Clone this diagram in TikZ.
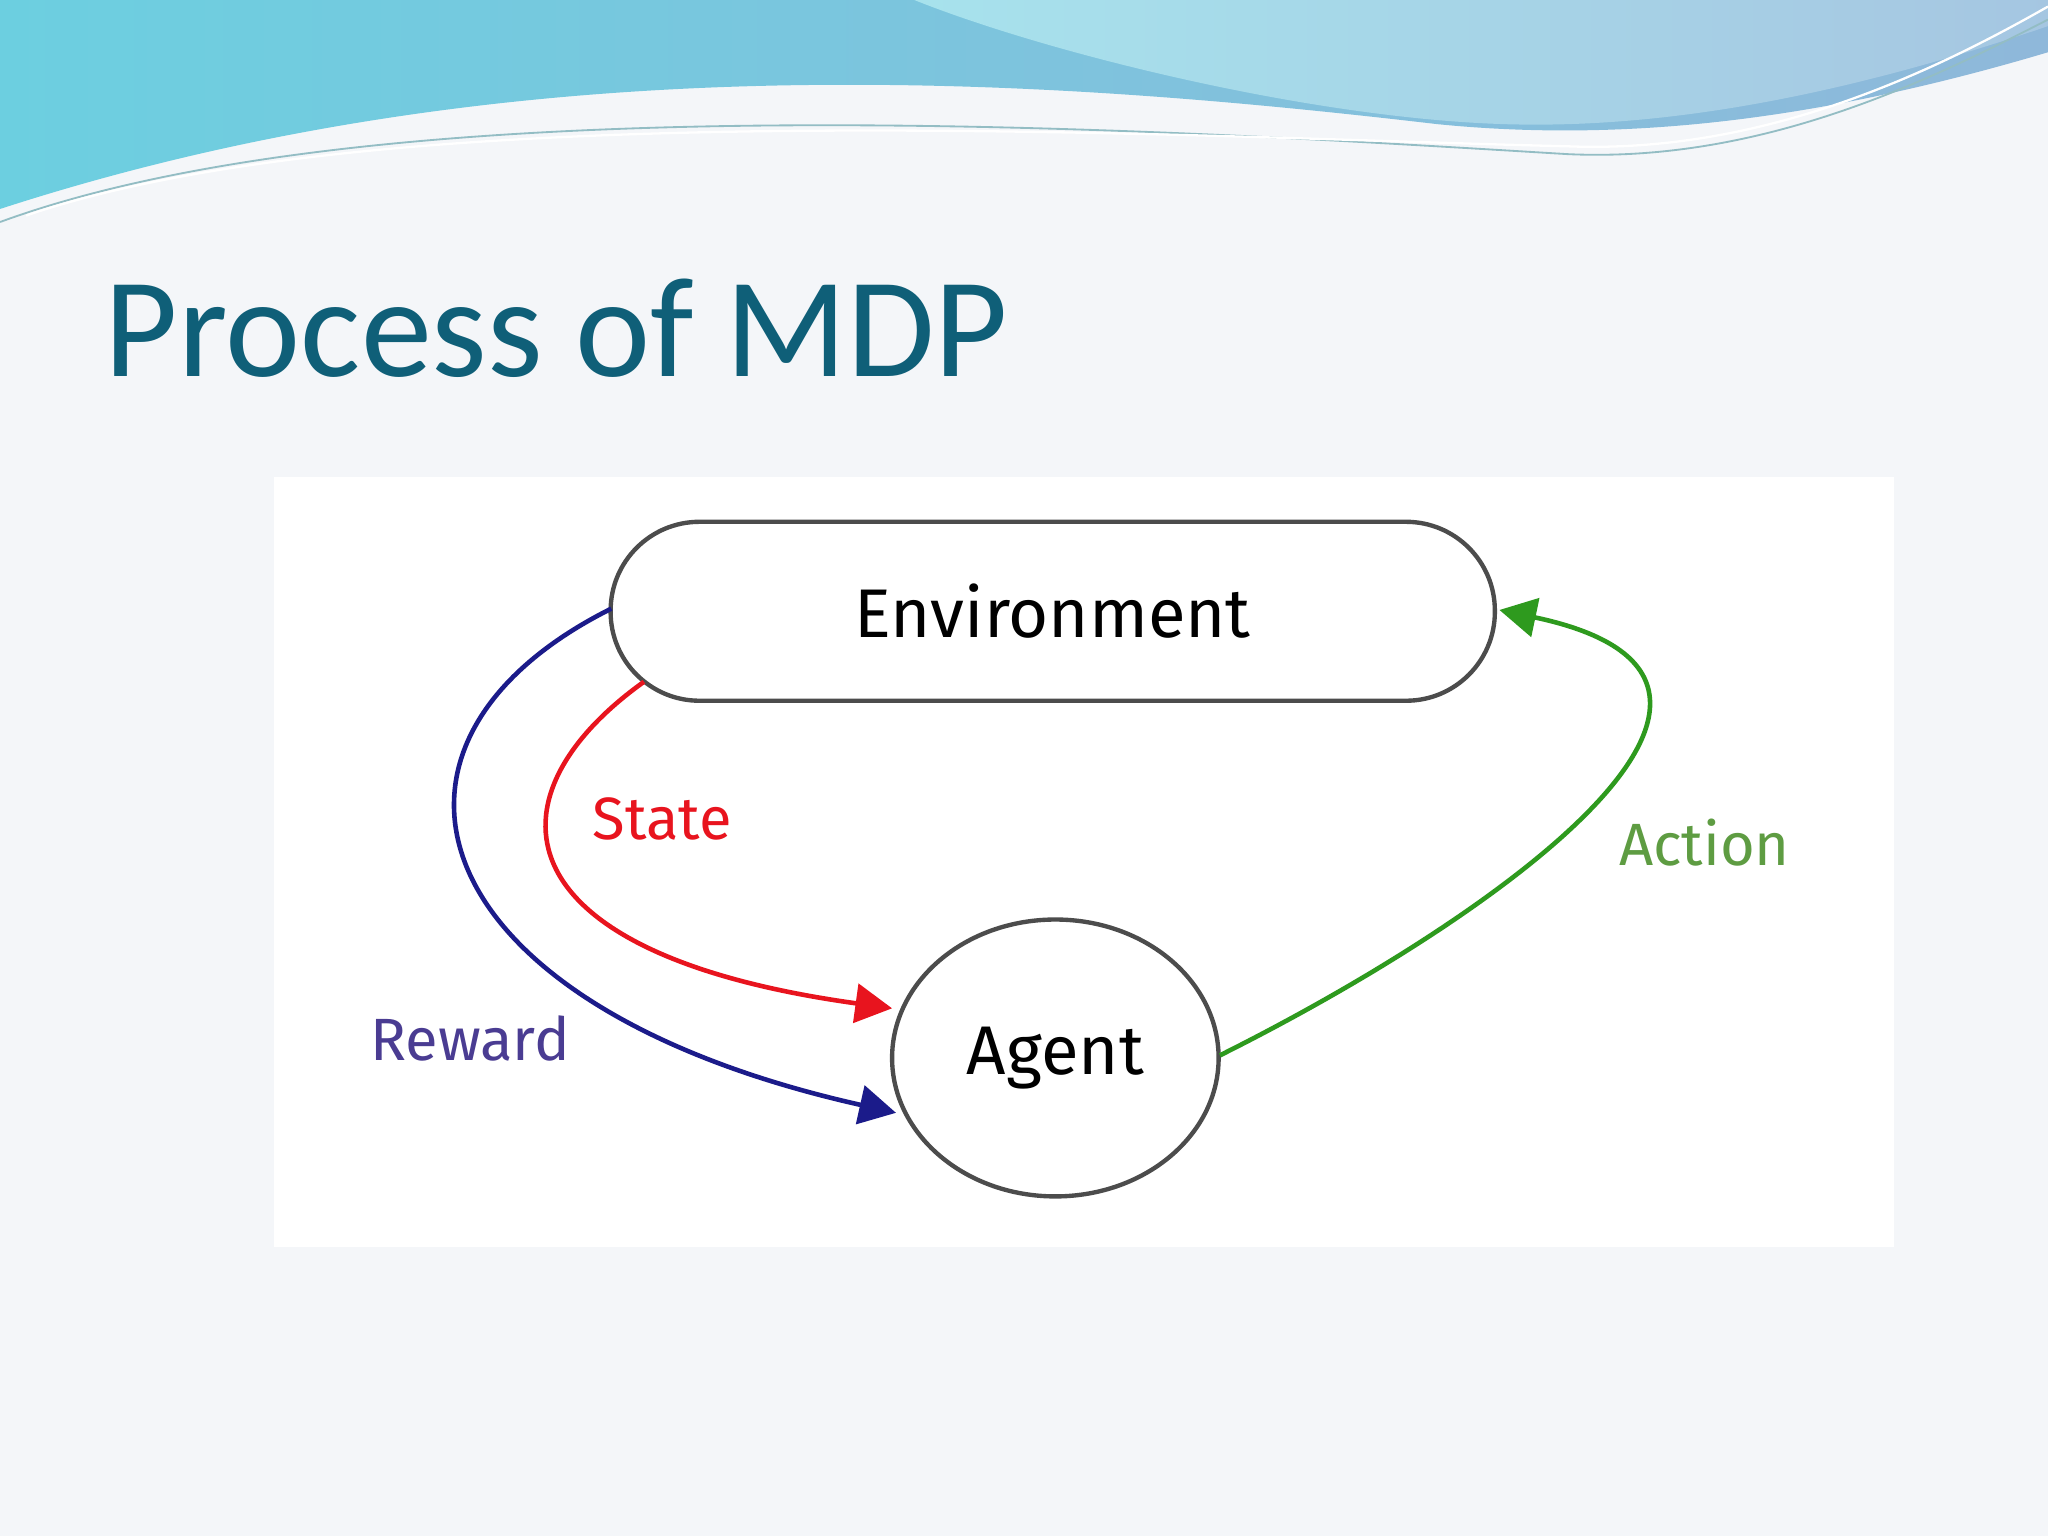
\documentclass[tikz,border=0pt]{standalone}
\usepackage{fontspec}
\setmainfont{Carlito}
\newfontfamily\dfont{Fira Sans}
\usetikzlibrary{arrows.meta}
\definecolor{bg}{HTML}{F4F6F9}
\definecolor{titlec}{HTML}{0F5F78}
\definecolor{wave1}{HTML}{6CCFE0}
\definecolor{wave2}{HTML}{8FB8DA}
\definecolor{redc}{HTML}{E8141E}
\definecolor{navyc}{HTML}{1B1B8A}
\definecolor{greenc}{HTML}{2E9A1E}
\definecolor{rewc}{HTML}{4A3C92}
\definecolor{actc}{HTML}{5E9C42}
\tikzset{
 box/.style={draw=black!70,line width=1.9pt,fill=white},
 lbl/.style={font=\dfont\fontsize{26}{30}\selectfont},
 conn/.style={line width=2pt,-{Triangle[length=16pt,width=17pt]}}
}
\begin{document}
\begin{tikzpicture}[x=0.02cm,y=-0.02cm]
\fill[bg] (0,0) rectangle (1568,1176);
\useasboundingbox (0,0) rectangle (1568,1176);
% top wave
\shade[left color=wave1,right color=wave2] (0,0) -- (1568,0) -- (1568,40) .. controls (1400,90) and (1250,110) .. (1100,95) .. controls (800,60) and (400,30) .. (0,160) -- cycle;
\shade[left color=wave1!60,right color=wave2!80] (700,0) .. controls (800,40) and (1000,90) .. (1150,95) .. controls (1300,100) and (1450,60) .. (1568,20) -- (1568,0) -- cycle;
\draw[wave1!70!black!60,line width=0.8pt] (0,170) .. controls (300,60) and (900,100) .. (1200,118) .. controls (1350,125) and (1480,60) .. (1568,15);
\draw[white,line width=1pt] (20,165) .. controls (300,70) and (900,105) .. (1200,112) .. controls (1350,118) and (1480,55) .. (1568,5);
% title
\node[anchor=base west,text=titlec,font=\fontsize{62}{66}\selectfont,inner sep=0] (title) at (80,288) {Process of MDP};
% panel
\fill[white] (210,365) rectangle (1450,955);
% nodes
\node[box,rounded corners=68*0.02cm,minimum width=677*0.02cm,minimum height=137*0.02cm,font=\dfont\fontsize{30}{34}\selectfont] (env) at (806,468) {Environment};
\draw[box] (808,810) ellipse [x radius=125,y radius=106];
\node[font=\dfont\fontsize{30}{34}\selectfont] (agent) at (808,810) {Agent};
\coordinate (es) at (493,522);
\coordinate (er) at (468,466);
\coordinate (ea) at (1148,467);
\coordinate (as) at (683,772);
\coordinate (ar) at (686,852);
\coordinate (aa) at (934,808);
\draw[conn,redc] (es) .. controls (370,610) and (380,730) .. (as);
\draw[conn,navyc] (er) .. controls (260,570) and (320,770) .. (ar);
\draw[conn,greenc] (aa) .. controls (1150,700) and (1400,520) .. (ea);
\node[lbl,text=redc] (ls) at (507,627) {State};
\node[lbl,text=rewc] (lr) at (360,795) {Reward};
\node[lbl,text=actc] (la) at (1305,645) {Action};
\end{tikzpicture}
\end{document}
